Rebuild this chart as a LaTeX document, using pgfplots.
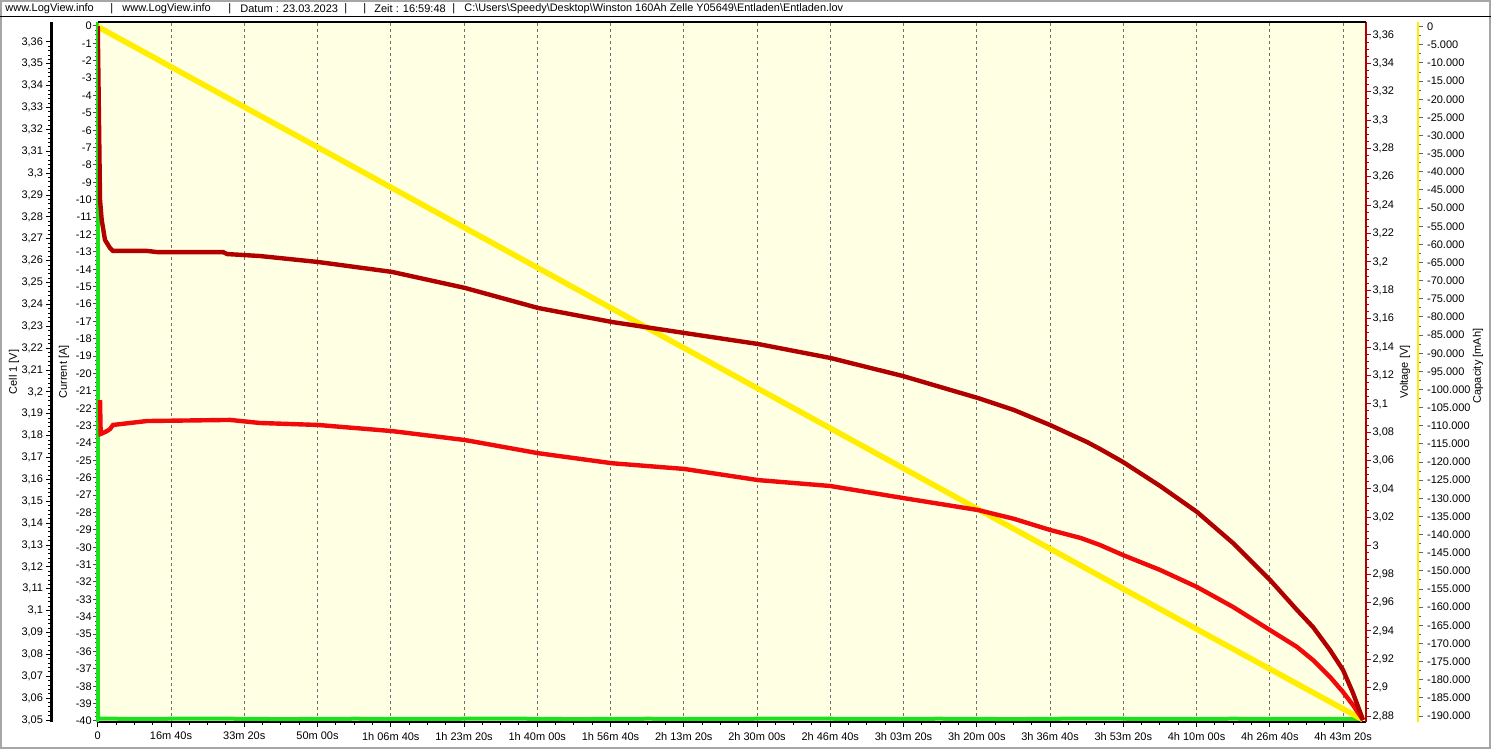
\documentclass[border=0pt]{standalone}
\usepackage{fontspec}
\setmainfont{Liberation Sans}
\usepackage{pgfplots}
\pgfplotsset{compat=1.18}

\definecolor{bgcream}{RGB}{255,255,228}
\definecolor{vdark}{RGB}{176,0,0}
\definecolor{cellred}{RGB}{240,10,10}
\definecolor{capyel}{RGB}{255,238,0}
\definecolor{curgreen}{RGB}{30,225,30}
\definecolor{gridgray}{RGB}{110,110,110}

% picture pixel -> pt (0.5pt per px, y from top)
\def\P#1#2{({(#1)*0.5pt},{(749-(#2))*0.5pt})}
\newcommand{\sm}{\fontsize{5.5}{6.6}\selectfont}

\pgfplotsset{
  base/.style={
    scale only axis, anchor=south west, height=350pt,
    tick label style={font=\sm, black},
    /pgf/number format/assume math mode=true,
    tick align=outside,
    major tick length=2.5pt, minor tick length=1.5pt,
    scaled y ticks=false,
  }
}

\begin{document}
\begin{tikzpicture}
\useasboundingbox (0,0) rectangle (745.5pt,374.5pt);
\fill[white] (0,0) rectangle (745.5pt,374.5pt);
\draw[gray!70, line width=0.8pt] (0.4pt,0.4pt) rectangle (745.1pt,374.1pt);
\draw[black, line width=0.5pt] \P{0}{16.5} -- \P{1491}{16.5};

% title bar
\node[font=\sm, anchor=west, inner sep=0pt] at \P{5}{8.5} {www.LogView.info};
\node[font=\sm, anchor=west, inner sep=0pt] at \P{110}{8.5} {|};
\node[font=\sm, anchor=west, inner sep=0pt] at \P{122}{8.5} {www.LogView.info};
\node[font=\sm, anchor=west, inner sep=0pt] at \P{228}{8.5} {|};
\node[font=\sm, anchor=west, inner sep=0pt] at \P{240}{8.5} {Datum : 23.03.2023};
\node[font=\sm, anchor=west, inner sep=0pt] at \P{344}{8.5} {|};
\node[font=\sm, anchor=west, inner sep=0pt] at \P{363}{8.5} {|};
\node[font=\sm, anchor=west, inner sep=0pt] at \P{374}{8.5} {Zeit : 16:59:48};
\node[font=\sm, anchor=west, inner sep=0pt] at \P{452}{8.5} {|};
\node[font=\fontsize{5.45}{6.6}\selectfont, anchor=west, inner sep=0pt] at \P{464}{8.5} {C:\textbackslash Users\textbackslash Speedy\textbackslash Desktop\textbackslash Winston 160Ah Zelle Y05649\textbackslash Entladen\textbackslash Entladen.lov};

% current axis (main frame, grid, time axis)
\begin{axis}[base, at={(48.875pt,13.5pt)}, width=633.875pt,
  xmin=0, xmax=17307, ymin=-40.058, ymax=0.23,
  axis background/.style={fill=bgcream},
  axis x line*=bottom, axis y line*=left,
  x axis line style={-, black, line width=0.6pt},
  y axis line style={-, curgreen, line width=1.5pt},
  xtick={0,1000,...,17000},
  xticklabels={0, 16m 40s, 33m 20s, 50m 00s, 1h 06m 40s, 1h 23m 20s,
    1h 40m 00s, 1h 56m 40s, 2h 13m 20s, 2h 30m 00s, 2h 46m 40s,
    3h 03m 20s, 3h 20m 00s, 3h 36m 40s, 3h 53m 20s, 4h 10m 00s,
    4h 26m 40s, 4h 43m 20s},
  xticklabel style={yshift=1pt},
  minor x tick num=3,
  xtick style={black, line width=0.5pt},
  xmajorgrids,
  grid style={gridgray, dash pattern=on 1.5pt off 1.5pt, line width=0.5pt},
  ytick={-40,-39,...,0},
  yticklabel style={xshift=3pt},
  minor y tick num=3,
  ytick style={black!70, line width=0.5pt},
]
\addplot[curgreen, line width=2pt] coordinates {
  (0,-0.05) (2,-39.2) (5,-39.86) (500,-39.88) (1500,-39.86) (2500,-39.89)
  (3500,-39.87) (4500,-39.88) (5500,-39.86) (6500,-39.89) (7500,-39.87)
  (8500,-39.88) (9500,-39.86) (10500,-39.88) (11500,-39.87) (12500,-39.89)
  (13500,-39.86) (14500,-39.88) (15500,-39.87) (16500,-39.88) (17270,-39.87)
};
\end{axis}

% capacity axis (outer right, yellow)
\begin{axis}[base, at={(48.875pt,13.5pt)}, width=660.125pt,
  xmin=0, xmax=18024, ymin=-191648, ymax=1295,
  hide x axis, axis y line*=right,
  y axis line style={-, capyel, line width=1pt},
  ytick={-190000,-185000,-180000,-175000,-170000,-165000,-160000,-155000,
    -150000,-145000,-140000,-135000,-130000,-125000,-120000,-115000,-110000,
    -105000,-100000,-95000,-90000,-85000,-80000,-75000,-70000,-65000,-60000,
    -55000,-50000,-45000,-40000,-35000,-30000,-25000,-20000,-15000,-10000,
    -5000,0},
  minor y tick num=1,
  ytick style={black!60, line width=0.5pt},
  yticklabel style={xshift=-1.5pt, /pgf/number format/.cd, fixed, 1000 sep={.}},
]
\addplot[capyel, line width=2.8pt] coordinates {
  (0,0) (6010,-66500) (12017,-133000) (15007,-166100) (17270,-191000)
};
\end{axis}

% cell 1 axis (outer left, black)
\begin{axis}[base, at={(25.5pt,13.5pt)}, width=657.25pt,
  xmin=-638.2, xmax=17307, ymin=3.04909, ymax=3.36914,
  hide x axis, axis y line*=left,
  y axis line style={-, black, line width=1.5pt},
  ytick={3.05,3.06,3.07,3.08,3.09,3.1,3.11,3.12,3.13,3.14,3.15,3.16,3.17,
    3.18,3.19,3.2,3.21,3.22,3.23,3.24,3.25,3.26,3.27,3.28,3.29,3.3,3.31,
    3.32,3.33,3.34,3.35,3.36},
  minor y tick num=4,
  ytick style={black, line width=0.5pt},
  yticklabel style={xshift=2pt, /pgf/number format/.cd, use comma, precision=2},
]
\addplot[cellred, line width=2.2pt] coordinates {
  (31,3.1963) (40,3.1808) (71,3.1812) (126,3.1821) (167,3.1830) (208,3.1849)
  (440,3.1858) (672,3.1867) (1806,3.1872) (2215,3.1858) (3007,3.1849)
  (4017,3.1821) (5014,3.1780) (6010,3.1720) (7020,3.1674) (8003,3.1648)
  (9014,3.1597) (9997,3.1570) (10993,3.1515) (12017,3.1460) (12506,3.1420)
  (13000,3.1369) (13420,3.1332) (13683,3.1300) (13997,3.1254) (14503,3.1186)
  (15007,3.1108) (15498,3.1017) (16003,3.0911) (16372,3.0834) (16590,3.0774)
  (16822,3.0697) (17000,3.0628) (17136,3.0568) (17273,3.0500)
};
\end{axis}

% voltage axis (right frame, dark red)
\begin{axis}[base, at={(48.875pt,13.5pt)}, width=633.875pt,
  xmin=0, xmax=17307, ymin=2.87577, ymax=3.36916,
  hide x axis, axis y line*=right,
  y axis line style={-, vdark, line width=1pt},
  ytick={2.88,2.9,2.92,2.94,2.96,2.98,3,3.02,3.04,3.06,3.08,3.1,3.12,3.14,
    3.16,3.18,3.2,3.22,3.24,3.26,3.28,3.3,3.32,3.34,3.36},
  minor y tick num=3,
  ytick style={vdark, line width=0.5pt},
  yticklabel style={xshift=-2.5pt, /pgf/number format/.cd, use comma, precision=2},
]
\addplot[vdark, line width=2.2pt] coordinates {
  (0,3.3663) (31,3.2437) (54,3.2296) (99,3.2155) (167,3.2099) (208,3.2078)
  (672,3.2078) (809,3.2070) (1710,3.2070) (1765,3.2056) (2215,3.2042)
  (3007,3.2000) (4017,3.1930) (5014,3.1817) (6010,3.1676) (7020,3.1577)
  (8003,3.1500) (9014,3.1422) (9997,3.1324) (10993,3.1196) (12017,3.1041)
  (12506,3.0957) (13000,3.0851) (13505,3.0731) (13683,3.0682) (13997,3.0590)
  (14503,3.0421) (15007,3.0238) (15498,3.0019) (16003,2.9759) (16372,2.9547)
  (16590,2.9427) (16822,2.9265) (17000,2.9124) (17136,2.8962) (17273,2.8772)
};
\end{axis}

% top frame line
\draw[black, line width=0.6pt] \P{97.75}{22} -- \P{1365.5}{22};

% axis titles
\node[font=\sm, rotate=90] at \P{14}{372} {Cell 1 [V]};
\node[font=\sm, rotate=90] at \P{64}{372} {Current [A]};
\node[font=\sm, rotate=90] at \P{1405}{372} {Voltage [V]};
\node[font=\sm, rotate=90] at \P{1478}{366} {Capacity [mAh]};
\end{tikzpicture}
\end{document}
